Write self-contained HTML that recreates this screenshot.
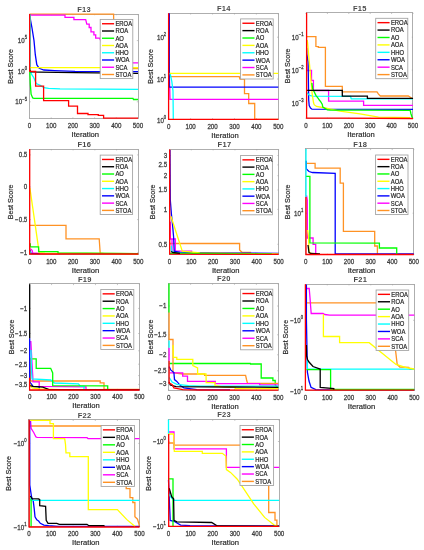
<!DOCTYPE html>
<html><head><meta charset="utf-8"><title>Convergence curves F13-F23</title>
<style>
html,body{margin:0;padding:0;background:#fff;}
body{width:424px;height:550px;overflow:hidden;}
svg{display:block;font-family:"Liberation Sans",sans-serif;will-change:transform;}
</style></head><body>
<svg width="424" height="550" viewBox="0 0 424 550">
<defs><filter id="tb" x="-5%" y="-5%" width="110%" height="110%"><feGaussianBlur stdDeviation="0.3"/></filter></defs>
<rect width="424" height="550" fill="#fff"/>
<g><rect x="29.5" y="14.5" width="109" height="104" fill="none" stroke="#a0a0a0" stroke-width="0.85"/><path d="M29.5 118.6v-1.2M29.5 14v1.2" stroke="#a0a0a0" stroke-width="0.6"/><path d="M51.2 118.6v-1.2M51.2 14v1.2" stroke="#a0a0a0" stroke-width="0.6"/><path d="M72.9 118.6v-1.2M72.9 14v1.2" stroke="#a0a0a0" stroke-width="0.6"/><path d="M94.6 118.6v-1.2M94.6 14v1.2" stroke="#a0a0a0" stroke-width="0.6"/><path d="M116.3 118.6v-1.2M116.3 14v1.2" stroke="#a0a0a0" stroke-width="0.6"/><path d="M138 118.6v-1.2M138 14v1.2" stroke="#a0a0a0" stroke-width="0.6"/><path d="M29.5 40.6h1.2M138 40.6h-1.2" stroke="#a0a0a0" stroke-width="0.6"/><path d="M29.5 71.6h1.2M138 71.6h-1.2" stroke="#a0a0a0" stroke-width="0.6"/><path d="M29.5 101.8h1.2M138 101.8h-1.2" stroke="#a0a0a0" stroke-width="0.6"/><polyline points="29.5,14.2 113.6,14.2 114,68.6 138,68.6" fill="none" stroke="#ff9224" stroke-width="1.3" stroke-linejoin="miter" stroke-miterlimit="2"/><polyline points="29.5,15.2 65,15.2 65,17.3 73.9,17.3 73.9,19.7 85.7,19.7 86.8,24.2 89.2,24.2 89.2,27.5 91,27.5 91,31.8 93.9,31.8 93.9,34.8 95.7,34.8 95.7,38.1 99.5,38.1 105,50 133,62.9 138,62.9" fill="none" stroke="#ff00ff" stroke-width="1.3" stroke-linejoin="miter" stroke-miterlimit="2"/><polyline points="29.8,14.5 30.5,20 32,28 34,40.6 35.3,54.7 36.8,64.7 39.2,68.3 43.9,70 54.5,70.6 75,71.4 138,71.6" fill="none" stroke="#0000ff" stroke-width="1.3" stroke-linejoin="miter" stroke-miterlimit="2"/><polyline points="30.3,14.5 30.3,69.4" fill="none" stroke="#00ffff" stroke-width="1.3" stroke-linejoin="miter" stroke-miterlimit="2"/><polyline points="29.7,69.4 31.5,74.2 33.8,77.7 36.2,83.6 40.3,85.4 43.9,87.7 48.6,88.3 60,88.9 138,89.3" fill="none" stroke="#00ffff" stroke-width="1.3" stroke-linejoin="miter" stroke-miterlimit="2"/><polyline points="30,67.7 138,67.7" fill="none" stroke="#ffff00" stroke-width="1.3" stroke-linejoin="miter" stroke-miterlimit="2"/><polyline points="29.7,68.8 30.3,83.6 31.1,94.2 32.7,98 34,98.3 133,98.4 133.5,99.5 138,99.5" fill="none" stroke="#00ff00" stroke-width="1.3" stroke-linejoin="miter" stroke-miterlimit="2"/><polyline points="29.7,70 30.9,71.8 40,72.1 75,72.7 138,73.3" fill="none" stroke="#000000" stroke-width="1.3" stroke-linejoin="miter" stroke-miterlimit="2"/><polyline points="29.7,14 29.7,71.2 30.9,71.4 35.6,71.4 35.6,86.2 43.6,86.2 43.6,100.7 68.6,100.7 68.6,106.2 77.5,106.2 77.5,113.5 88,113.5 88,114.6 98.3,114.6 98.3,115.4 103.6,115.4 103.6,118.2 138,118.2" fill="none" stroke="#ff0000" stroke-width="1.3" stroke-linejoin="miter" stroke-miterlimit="2"/><rect x="100.2" y="19.4" width="32.6" height="59.2" fill="#fff" stroke="#a0a0a0" stroke-width="0.85"/><path d="M102 23.75H114.1" stroke="#ff0000" stroke-width="1.4"/><path d="M102 31H114.1" stroke="#000000" stroke-width="1.4"/><path d="M102 38.25H114.1" stroke="#00ff00" stroke-width="1.4"/><path d="M102 45.5H114.1" stroke="#ffff00" stroke-width="1.4"/><path d="M102 52.75H114.1" stroke="#00ffff" stroke-width="1.4"/><path d="M102 60H114.1" stroke="#0000ff" stroke-width="1.4"/><path d="M102 67.25H114.1" stroke="#ff00ff" stroke-width="1.4"/><path d="M102 74.5H114.1" stroke="#ff9224" stroke-width="1.4"/></g>
<g><rect x="168.5" y="13.5" width="110" height="106" fill="none" stroke="#a0a0a0" stroke-width="0.85"/><path d="M168.7 119.4v-1.2M168.7 13.3v1.2" stroke="#a0a0a0" stroke-width="0.6"/><path d="M190.62 119.4v-1.2M190.62 13.3v1.2" stroke="#a0a0a0" stroke-width="0.6"/><path d="M212.54 119.4v-1.2M212.54 13.3v1.2" stroke="#a0a0a0" stroke-width="0.6"/><path d="M234.46 119.4v-1.2M234.46 13.3v1.2" stroke="#a0a0a0" stroke-width="0.6"/><path d="M256.38 119.4v-1.2M256.38 13.3v1.2" stroke="#a0a0a0" stroke-width="0.6"/><path d="M278.3 119.4v-1.2M278.3 13.3v1.2" stroke="#a0a0a0" stroke-width="0.6"/><path d="M168.7 37.2h1.2M278.3 37.2h-1.2" stroke="#a0a0a0" stroke-width="0.6"/><path d="M168.7 79h1.2M278.3 79h-1.2" stroke="#a0a0a0" stroke-width="0.6"/><polyline points="169.2,76.6 239.2,76.6 240,79 244.5,79 244.5,93.7 248.7,93.7 248.7,103.5 254.7,103.5 254.7,119.3 278.3,119.3" fill="none" stroke="#ff9224" stroke-width="1.3" stroke-linejoin="miter" stroke-miterlimit="2"/><polyline points="169.5,79.5 170,99.4 278.3,99.4" fill="none" stroke="#ff00ff" stroke-width="1.3" stroke-linejoin="miter" stroke-miterlimit="2"/><polyline points="169.3,13.3 169.3,87.2 278.3,87.2" fill="none" stroke="#0000ff" stroke-width="1.3" stroke-linejoin="miter" stroke-miterlimit="2"/><polyline points="170,73 171.8,81.3 173,90.8 173.3,119.3" fill="none" stroke="#00ffff" stroke-width="1.3" stroke-linejoin="miter" stroke-miterlimit="2"/><polyline points="169.7,73.3 278.3,73.3" fill="none" stroke="#ffff00" stroke-width="1.3" stroke-linejoin="miter" stroke-miterlimit="2"/><polyline points="168.6,13.3 168.6,119.35 278.3,119.35" fill="none" stroke="#ff0000" stroke-width="1.3" stroke-linejoin="miter" stroke-miterlimit="2"/><rect x="240.6" y="18.9" width="32.6" height="60.1" fill="#fff" stroke="#a0a0a0" stroke-width="0.85"/><path d="M242.4 23.25H254.5" stroke="#ff0000" stroke-width="1.4"/><path d="M242.4 30.63H254.5" stroke="#000000" stroke-width="1.4"/><path d="M242.4 38.01H254.5" stroke="#00ff00" stroke-width="1.4"/><path d="M242.4 45.39H254.5" stroke="#ffff00" stroke-width="1.4"/><path d="M242.4 52.76H254.5" stroke="#00ffff" stroke-width="1.4"/><path d="M242.4 60.14H254.5" stroke="#0000ff" stroke-width="1.4"/><path d="M242.4 67.52H254.5" stroke="#ff00ff" stroke-width="1.4"/><path d="M242.4 74.9H254.5" stroke="#ff9224" stroke-width="1.4"/></g>
<g><rect x="306.5" y="12.5" width="106" height="106" fill="none" stroke="#a0a0a0" stroke-width="0.85"/><path d="M306 118.9v-1.2M306 12.8v1.2" stroke="#a0a0a0" stroke-width="0.6"/><path d="M327.4 118.9v-1.2M327.4 12.8v1.2" stroke="#a0a0a0" stroke-width="0.6"/><path d="M348.8 118.9v-1.2M348.8 12.8v1.2" stroke="#a0a0a0" stroke-width="0.6"/><path d="M370.2 118.9v-1.2M370.2 12.8v1.2" stroke="#a0a0a0" stroke-width="0.6"/><path d="M391.6 118.9v-1.2M391.6 12.8v1.2" stroke="#a0a0a0" stroke-width="0.6"/><path d="M413 118.9v-1.2M413 12.8v1.2" stroke="#a0a0a0" stroke-width="0.6"/><path d="M306 37.2h1.2M413 37.2h-1.2" stroke="#a0a0a0" stroke-width="0.6"/><path d="M306 70.1h1.2M413 70.1h-1.2" stroke="#a0a0a0" stroke-width="0.6"/><path d="M306 103.7h1.2M413 103.7h-1.2" stroke="#a0a0a0" stroke-width="0.6"/><polyline points="306.7,36.7 315.9,36.7 315.9,46.4 318.4,46.6 318.4,47.4 325.4,47.4 325.4,86.4 342.3,86.4 342.3,91.9 377,91.9 378.5,94.1 380.4,96 408.3,96 413,99" fill="none" stroke="#ff9224" stroke-width="1.3" stroke-linejoin="miter" stroke-miterlimit="2"/><polyline points="306.7,60 306.7,70.5 311.5,70.5 311.5,80.3 313.4,80.3 313.4,90.5 328.6,90.5 328.6,101.1 363.6,101.2 363.6,105.3 413,105.3" fill="none" stroke="#ff00ff" stroke-width="1.3" stroke-linejoin="miter" stroke-miterlimit="2"/><polyline points="306.7,48 306.8,54.2 308.1,61.8 308.7,100 309.2,105.5 310.5,108 312,109.2 413,109.4" fill="none" stroke="#0000ff" stroke-width="1.3" stroke-linejoin="miter" stroke-miterlimit="2"/><polyline points="307,92.8 309.5,95.4 312.6,96.2 350.6,96.4 351.2,98.8 413,98.8" fill="none" stroke="#00ffff" stroke-width="1.3" stroke-linejoin="miter" stroke-miterlimit="2"/><polyline points="307.2,40 307.5,42 310,70 312.2,94 313.6,103 314.2,104.7 316.5,106.4 322.6,107.5 340,111.1 360,113.8 378.5,117.2 410,117.6" fill="none" stroke="#ffff00" stroke-width="1.3" stroke-linejoin="miter" stroke-miterlimit="2"/><polyline points="311.9,83 312.6,88.6 315.9,95.3 318.4,98.6 319.3,100 320.8,101.9 322.2,104.2 322.8,107 327.4,109.9 330,110.2 360,110.2 410.2,110.3 411,114 412.5,118.3" fill="none" stroke="#00ff00" stroke-width="1.3" stroke-linejoin="miter" stroke-miterlimit="2"/><polyline points="306.7,90.3 342.3,90.3 342.3,96 367.4,96.2 367.4,98.4 413,98.4" fill="none" stroke="#000000" stroke-width="1.3" stroke-linejoin="miter" stroke-miterlimit="2"/><polyline points="306.6,12.8 306.6,118.1 340,118.2 413,118.5" fill="none" stroke="#ff0000" stroke-width="1.3" stroke-linejoin="miter" stroke-miterlimit="2"/><rect x="375.7" y="18.3" width="32.1" height="60.4" fill="#fff" stroke="#a0a0a0" stroke-width="0.85"/><path d="M377.5 22.65H389.6" stroke="#ff0000" stroke-width="1.4"/><path d="M377.5 30.07H389.6" stroke="#000000" stroke-width="1.4"/><path d="M377.5 37.49H389.6" stroke="#00ff00" stroke-width="1.4"/><path d="M377.5 44.91H389.6" stroke="#ffff00" stroke-width="1.4"/><path d="M377.5 52.34H389.6" stroke="#00ffff" stroke-width="1.4"/><path d="M377.5 59.76H389.6" stroke="#0000ff" stroke-width="1.4"/><path d="M377.5 67.18H389.6" stroke="#ff00ff" stroke-width="1.4"/><path d="M377.5 74.6H389.6" stroke="#ff9224" stroke-width="1.4"/></g>
<g><rect x="29.5" y="149.5" width="109" height="105" fill="none" stroke="#a0a0a0" stroke-width="0.85"/><path d="M29.6 254.4v-1.2M29.6 149.2v1.2" stroke="#a0a0a0" stroke-width="0.6"/><path d="M51.34 254.4v-1.2M51.34 149.2v1.2" stroke="#a0a0a0" stroke-width="0.6"/><path d="M73.08 254.4v-1.2M73.08 149.2v1.2" stroke="#a0a0a0" stroke-width="0.6"/><path d="M94.82 254.4v-1.2M94.82 149.2v1.2" stroke="#a0a0a0" stroke-width="0.6"/><path d="M116.56 254.4v-1.2M116.56 149.2v1.2" stroke="#a0a0a0" stroke-width="0.6"/><path d="M138.3 254.4v-1.2M138.3 149.2v1.2" stroke="#a0a0a0" stroke-width="0.6"/><path d="M29.6 154.9h1.2M138.3 154.9h-1.2" stroke="#a0a0a0" stroke-width="0.6"/><path d="M29.6 187h1.2M138.3 187h-1.2" stroke="#a0a0a0" stroke-width="0.6"/><path d="M29.6 219.6h1.2M138.3 219.6h-1.2" stroke="#a0a0a0" stroke-width="0.6"/><path d="M29.6 252.8h1.2M138.3 252.8h-1.2" stroke="#a0a0a0" stroke-width="0.6"/><polyline points="29.8,225.4 66,225.4 66,238.8 99.2,238.8 100.2,253.2 104,253.6 138.3,253.8" fill="none" stroke="#ff9224" stroke-width="1.3" stroke-linejoin="miter" stroke-miterlimit="2"/><polyline points="30.3,248.6 32.1,250.4 32.7,253 39.2,253.3 60,253.6" fill="none" stroke="#ff00ff" stroke-width="1.3" stroke-linejoin="miter" stroke-miterlimit="2"/><polyline points="29.9,250 31,253.3 40,253.6" fill="none" stroke="#0000ff" stroke-width="1.3" stroke-linejoin="miter" stroke-miterlimit="2"/><polyline points="29.9,251 31,253.6" fill="none" stroke="#00ffff" stroke-width="1.3" stroke-linejoin="miter" stroke-miterlimit="2"/><polyline points="29.9,188 39.2,252.6 45,253.2 138,253.6" fill="none" stroke="#ffff00" stroke-width="1.3" stroke-linejoin="miter" stroke-miterlimit="2"/><polyline points="30.3,243.3 30.3,246.8 38.6,246.8 38.6,251.6 58,251.6 58,253 115.3,253.3 138,253.6" fill="none" stroke="#00ff00" stroke-width="1.3" stroke-linejoin="miter" stroke-miterlimit="2"/><polyline points="29.7,149.2 29.7,254 138.3,254" fill="none" stroke="#ff0000" stroke-width="1.3" stroke-linejoin="miter" stroke-miterlimit="2"/><rect x="100.2" y="155.1" width="32.4" height="59.4" fill="#fff" stroke="#a0a0a0" stroke-width="0.85"/><path d="M102 159.45H114.1" stroke="#ff0000" stroke-width="1.4"/><path d="M102 166.73H114.1" stroke="#000000" stroke-width="1.4"/><path d="M102 174.01H114.1" stroke="#00ff00" stroke-width="1.4"/><path d="M102 181.29H114.1" stroke="#ffff00" stroke-width="1.4"/><path d="M102 188.56H114.1" stroke="#00ffff" stroke-width="1.4"/><path d="M102 195.84H114.1" stroke="#0000ff" stroke-width="1.4"/><path d="M102 203.12H114.1" stroke="#ff00ff" stroke-width="1.4"/><path d="M102 210.4H114.1" stroke="#ff9224" stroke-width="1.4"/></g>
<g><rect x="169.5" y="149.5" width="109" height="105" fill="none" stroke="#a0a0a0" stroke-width="0.85"/><path d="M169.5 254.5v-1.2M169.5 149.2v1.2" stroke="#a0a0a0" stroke-width="0.6"/><path d="M191.32 254.5v-1.2M191.32 149.2v1.2" stroke="#a0a0a0" stroke-width="0.6"/><path d="M213.14 254.5v-1.2M213.14 149.2v1.2" stroke="#a0a0a0" stroke-width="0.6"/><path d="M234.96 254.5v-1.2M234.96 149.2v1.2" stroke="#a0a0a0" stroke-width="0.6"/><path d="M256.78 254.5v-1.2M256.78 149.2v1.2" stroke="#a0a0a0" stroke-width="0.6"/><path d="M278.6 254.5v-1.2M278.6 149.2v1.2" stroke="#a0a0a0" stroke-width="0.6"/><path d="M169.5 155.5h1.2M278.6 155.5h-1.2" stroke="#a0a0a0" stroke-width="0.6"/><path d="M169.5 164.9h1.2M278.6 164.9h-1.2" stroke="#a0a0a0" stroke-width="0.6"/><path d="M169.5 175.7h1.2M278.6 175.7h-1.2" stroke="#a0a0a0" stroke-width="0.6"/><path d="M169.5 190h1.2M278.6 190h-1.2" stroke="#a0a0a0" stroke-width="0.6"/><path d="M169.5 209.4h1.2M278.6 209.4h-1.2" stroke="#a0a0a0" stroke-width="0.6"/><path d="M169.5 244.3h1.2M278.6 244.3h-1.2" stroke="#a0a0a0" stroke-width="0.6"/><polyline points="169.8,243.5 239.6,243.5 239.6,249.9 242,252.3 250.5,252.3 250.5,253.4 259,253.6 278.6,253.8" fill="none" stroke="#ff9224" stroke-width="1.3" stroke-linejoin="miter" stroke-miterlimit="2"/><polyline points="170.4,221.8 170.4,239 175.3,239 175.3,251.2 191.6,251.2 191.6,254 278.6,254.1" fill="none" stroke="#ff00ff" stroke-width="1.3" stroke-linejoin="miter" stroke-miterlimit="2"/><polyline points="172,239 172,251" fill="none" stroke="#ff00ff" stroke-width="1.3" stroke-linejoin="miter" stroke-miterlimit="2"/><polyline points="170,150 170.3,200 171.5,215 172.5,224.5 173.6,237 174.2,251.2 180,252.5 278.6,253.5" fill="none" stroke="#0000ff" stroke-width="1.3" stroke-linejoin="miter" stroke-miterlimit="2"/><polyline points="171.4,245.8 171.4,251 175,253 190,253.6" fill="none" stroke="#00ffff" stroke-width="1.3" stroke-linejoin="miter" stroke-miterlimit="2"/><polyline points="170.9,216.3 182.3,251.2 200,253 278.6,253.8" fill="none" stroke="#ffff00" stroke-width="1.3" stroke-linejoin="miter" stroke-miterlimit="2"/><polyline points="170,253.4 190.5,253.4 259,253.8 271.7,253.8" fill="none" stroke="#00ff00" stroke-width="1.3" stroke-linejoin="miter" stroke-miterlimit="2"/><polyline points="171,251.5 173,252.5 180,253.5" fill="none" stroke="#000000" stroke-width="1.3" stroke-linejoin="miter" stroke-miterlimit="2"/><polyline points="169.7,149.5 169.7,254.2 278.6,254.4" fill="none" stroke="#ff0000" stroke-width="1.3" stroke-linejoin="miter" stroke-miterlimit="2"/><rect x="240.6" y="155.5" width="31.8" height="59.3" fill="#fff" stroke="#a0a0a0" stroke-width="0.85"/><path d="M242.4 159.85H254.5" stroke="#ff0000" stroke-width="1.4"/><path d="M242.4 167.11H254.5" stroke="#000000" stroke-width="1.4"/><path d="M242.4 174.38H254.5" stroke="#00ff00" stroke-width="1.4"/><path d="M242.4 181.64H254.5" stroke="#ffff00" stroke-width="1.4"/><path d="M242.4 188.91H254.5" stroke="#00ffff" stroke-width="1.4"/><path d="M242.4 196.17H254.5" stroke="#0000ff" stroke-width="1.4"/><path d="M242.4 203.44H254.5" stroke="#ff00ff" stroke-width="1.4"/><path d="M242.4 210.7H254.5" stroke="#ff9224" stroke-width="1.4"/></g>
<g><rect x="305.5" y="148.5" width="108" height="106" fill="none" stroke="#a0a0a0" stroke-width="0.85"/><path d="M305.8 254.9v-1.2M305.8 148.9v1.2" stroke="#a0a0a0" stroke-width="0.6"/><path d="M327.4 254.9v-1.2M327.4 148.9v1.2" stroke="#a0a0a0" stroke-width="0.6"/><path d="M349 254.9v-1.2M349 148.9v1.2" stroke="#a0a0a0" stroke-width="0.6"/><path d="M370.6 254.9v-1.2M370.6 148.9v1.2" stroke="#a0a0a0" stroke-width="0.6"/><path d="M392.2 254.9v-1.2M392.2 148.9v1.2" stroke="#a0a0a0" stroke-width="0.6"/><path d="M413.8 254.9v-1.2M413.8 148.9v1.2" stroke="#a0a0a0" stroke-width="0.6"/><path d="M305.8 213.2h1.2M413.8 213.2h-1.2" stroke="#a0a0a0" stroke-width="0.6"/><polyline points="306,163.4 315.1,163.4 315.1,168.1 340.2,168.1 340.2,183.2 343.4,183.2 343.4,231.4 374.7,231.4 374.7,246 377.4,246 377.4,254.5" fill="none" stroke="#ff9224" stroke-width="1.3" stroke-linejoin="miter" stroke-miterlimit="2"/><polyline points="306.5,195.3 307.3,200 307.4,238 313.1,238 313.1,244.3 315.7,244.3 315.7,254.3" fill="none" stroke="#ff00ff" stroke-width="1.3" stroke-linejoin="miter" stroke-miterlimit="2"/><polyline points="306.2,160.7 306.4,169 309,171.5 312.5,172.5 335.2,173.3 335.2,253.6 413.8,254" fill="none" stroke="#0000ff" stroke-width="1.3" stroke-linejoin="miter" stroke-miterlimit="2"/><polyline points="306,148.9 306,197" fill="none" stroke="#00ffff" stroke-width="1.3" stroke-linejoin="miter" stroke-miterlimit="2"/><polyline points="307.6,230 308.6,237 309,252 312,254" fill="none" stroke="#ffff00" stroke-width="1.3" stroke-linejoin="miter" stroke-miterlimit="2"/><polyline points="306.2,176.4 309.9,176.4 309.9,242.9 379.4,243.2 379.4,248 396.7,248 396.7,254.5" fill="none" stroke="#00ff00" stroke-width="1.3" stroke-linejoin="miter" stroke-miterlimit="2"/><polyline points="308,245 309,252.5 311,253.5 320,254" fill="none" stroke="#000000" stroke-width="1.3" stroke-linejoin="miter" stroke-miterlimit="2"/><polyline points="306,197 306,254.5 413.8,254.5" fill="none" stroke="#ff0000" stroke-width="1.3" stroke-linejoin="miter" stroke-miterlimit="2"/><rect x="375.6" y="155" width="32.4" height="59.6" fill="#fff" stroke="#a0a0a0" stroke-width="0.85"/><path d="M377.4 159.35H389.5" stroke="#ff0000" stroke-width="1.4"/><path d="M377.4 166.66H389.5" stroke="#000000" stroke-width="1.4"/><path d="M377.4 173.96H389.5" stroke="#00ff00" stroke-width="1.4"/><path d="M377.4 181.27H389.5" stroke="#ffff00" stroke-width="1.4"/><path d="M377.4 188.58H389.5" stroke="#00ffff" stroke-width="1.4"/><path d="M377.4 195.89H389.5" stroke="#0000ff" stroke-width="1.4"/><path d="M377.4 203.19H389.5" stroke="#ff00ff" stroke-width="1.4"/><path d="M377.4 210.5H389.5" stroke="#ff9224" stroke-width="1.4"/></g>
<g><rect x="29.5" y="283.5" width="110" height="107" fill="none" stroke="#a0a0a0" stroke-width="0.85"/><path d="M29.6 390.1v-1.2M29.6 283.9v1.2" stroke="#a0a0a0" stroke-width="0.6"/><path d="M51.56 390.1v-1.2M51.56 283.9v1.2" stroke="#a0a0a0" stroke-width="0.6"/><path d="M73.52 390.1v-1.2M73.52 283.9v1.2" stroke="#a0a0a0" stroke-width="0.6"/><path d="M95.48 390.1v-1.2M95.48 283.9v1.2" stroke="#a0a0a0" stroke-width="0.6"/><path d="M117.44 390.1v-1.2M117.44 283.9v1.2" stroke="#a0a0a0" stroke-width="0.6"/><path d="M139.4 390.1v-1.2M139.4 283.9v1.2" stroke="#a0a0a0" stroke-width="0.6"/><path d="M29.6 308.4h1.2M139.4 308.4h-1.2" stroke="#a0a0a0" stroke-width="0.6"/><path d="M29.6 333.5h1.2M139.4 333.5h-1.2" stroke="#a0a0a0" stroke-width="0.6"/><path d="M29.6 350.8h1.2M139.4 350.8h-1.2" stroke="#a0a0a0" stroke-width="0.6"/><path d="M29.6 364.2h1.2M139.4 364.2h-1.2" stroke="#a0a0a0" stroke-width="0.6"/><path d="M29.6 375.6h1.2M139.4 375.6h-1.2" stroke="#a0a0a0" stroke-width="0.6"/><path d="M29.6 384.4h1.2M139.4 384.4h-1.2" stroke="#a0a0a0" stroke-width="0.6"/><polyline points="30.3,357.7 30.3,381 100.2,381 100.2,382.9 104,382.9 104,389.2 139.4,389.5" fill="none" stroke="#ff9224" stroke-width="1.3" stroke-linejoin="miter" stroke-miterlimit="2"/><polyline points="30.8,341 31.5,354 32.7,375.4 33,381.9 39.2,381.9 39.2,386.4 86,386.9 86,389.5 139.4,389.7" fill="none" stroke="#ff00ff" stroke-width="1.3" stroke-linejoin="miter" stroke-miterlimit="2"/><polyline points="29.7,338.2 29.7,381.9 33.3,386.6 39.2,386.6 39.2,390" fill="none" stroke="#0000ff" stroke-width="1.3" stroke-linejoin="miter" stroke-miterlimit="2"/><polyline points="31,350 31.5,370 32,378.9 50.7,380 54.5,383 78.5,383.9 80.4,386.3 84,386.3 84,389.5" fill="none" stroke="#00ffff" stroke-width="1.3" stroke-linejoin="miter" stroke-miterlimit="2"/><polyline points="30,384.5 32,387.8 40,389 60,389.6" fill="none" stroke="#ffff00" stroke-width="1.3" stroke-linejoin="miter" stroke-miterlimit="2"/><polyline points="32.3,358.9 36.2,358.9 36.2,368.3 50.7,368.3 52.7,373 52.7,385.6 107.7,385.9 107.7,390" fill="none" stroke="#00ff00" stroke-width="1.3" stroke-linejoin="miter" stroke-miterlimit="2"/><polyline points="29.7,284.2 29.7,338.2" fill="none" stroke="#000000" stroke-width="1.3" stroke-linejoin="miter" stroke-miterlimit="2"/><polyline points="30.2,385.6 33,386.4 42.7,387.2 48.6,389.3 139.4,389.7" fill="none" stroke="#000000" stroke-width="1.3" stroke-linejoin="miter" stroke-miterlimit="2"/><polyline points="29.6,377.7 29.6,390 139.4,390" fill="none" stroke="#ff0000" stroke-width="1.3" stroke-linejoin="miter" stroke-miterlimit="2"/><rect x="100.8" y="289.5" width="33" height="60" fill="#fff" stroke="#a0a0a0" stroke-width="0.85"/><path d="M102.6 293.85H114.7" stroke="#ff0000" stroke-width="1.4"/><path d="M102.6 301.21H114.7" stroke="#000000" stroke-width="1.4"/><path d="M102.6 308.58H114.7" stroke="#00ff00" stroke-width="1.4"/><path d="M102.6 315.94H114.7" stroke="#ffff00" stroke-width="1.4"/><path d="M102.6 323.31H114.7" stroke="#00ffff" stroke-width="1.4"/><path d="M102.6 330.67H114.7" stroke="#0000ff" stroke-width="1.4"/><path d="M102.6 338.04H114.7" stroke="#ff00ff" stroke-width="1.4"/><path d="M102.6 345.4H114.7" stroke="#ff9224" stroke-width="1.4"/></g>
<g><rect x="168.5" y="283.5" width="110" height="107" fill="none" stroke="#a0a0a0" stroke-width="0.85"/><path d="M168.7 390.3v-1.2M168.7 283.6v1.2" stroke="#a0a0a0" stroke-width="0.6"/><path d="M190.62 390.3v-1.2M190.62 283.6v1.2" stroke="#a0a0a0" stroke-width="0.6"/><path d="M212.54 390.3v-1.2M212.54 283.6v1.2" stroke="#a0a0a0" stroke-width="0.6"/><path d="M234.46 390.3v-1.2M234.46 283.6v1.2" stroke="#a0a0a0" stroke-width="0.6"/><path d="M256.38 390.3v-1.2M256.38 283.6v1.2" stroke="#a0a0a0" stroke-width="0.6"/><path d="M278.3 390.3v-1.2M278.3 283.6v1.2" stroke="#a0a0a0" stroke-width="0.6"/><path d="M168.7 306h1.2M278.3 306h-1.2" stroke="#a0a0a0" stroke-width="0.6"/><path d="M168.7 334.8h1.2M278.3 334.8h-1.2" stroke="#a0a0a0" stroke-width="0.6"/><path d="M168.7 354.8h1.2M278.3 354.8h-1.2" stroke="#a0a0a0" stroke-width="0.6"/><path d="M168.7 370.8h1.2M278.3 370.8h-1.2" stroke="#a0a0a0" stroke-width="0.6"/><path d="M168.7 383.5h1.2M278.3 383.5h-1.2" stroke="#a0a0a0" stroke-width="0.6"/><polyline points="169.5,363.5 250.3,363.5 250.5,364 261.2,364 261.2,378 272.9,378 272.9,380.5 275.2,380.5 275.2,385.2 278.3,388" fill="none" stroke="#00ff00" stroke-width="1.3" stroke-linejoin="miter" stroke-miterlimit="2"/><polyline points="169.1,312.2 169.1,339.5 173,339.5 173,372.6 182.7,374 204.6,374 204.6,375.3 245.6,375.3 246.5,379.5 247.5,383.3 278.3,383.3" fill="none" stroke="#ff9224" stroke-width="1.3" stroke-linejoin="miter" stroke-miterlimit="2"/><polyline points="169.1,347.7 169.1,360.7" fill="none" stroke="#ff00ff" stroke-width="1.3" stroke-linejoin="miter" stroke-miterlimit="2"/><polyline points="169.7,372.8 182.7,372.8 182.7,376.1 187.5,376.1 187.5,381.3 215.3,381.3 215.3,383.6 259.7,383.6 259.7,384.8 278.3,384.8" fill="none" stroke="#ff00ff" stroke-width="1.3" stroke-linejoin="miter" stroke-miterlimit="2"/><polyline points="169.1,366.6 170.9,370.2 173.9,372.6 174.5,379.6 176.8,381.4 180.4,385.6 183.9,387.9 196.9,389.6 230,389.9" fill="none" stroke="#0000ff" stroke-width="1.3" stroke-linejoin="miter" stroke-miterlimit="2"/><polyline points="169.1,340.6 169.1,347.7" fill="none" stroke="#00ffff" stroke-width="1.3" stroke-linejoin="miter" stroke-miterlimit="2"/><polyline points="169.1,377.3 172.1,382 176.8,384.4 188.6,385.6 200,386.1 278.3,386.2" fill="none" stroke="#00ffff" stroke-width="1.3" stroke-linejoin="miter" stroke-miterlimit="2"/><polyline points="173,345 173.2,353.6 173.5,357.4 176.8,357.4 176.8,359.3 192.8,359.3 192.8,365.5 197.6,367.8 197.6,374 206,374 206.2,382.7 215,382.7 215,385.6 224,387.1 235.2,387.1 235.2,388.6 278.3,388.6" fill="none" stroke="#ffff00" stroke-width="1.3" stroke-linejoin="miter" stroke-miterlimit="2"/><polyline points="169,283.6 169,312.4" fill="none" stroke="#00ff00" stroke-width="1.3" stroke-linejoin="miter" stroke-miterlimit="2"/><polyline points="169.1,382 170.3,385 176,386.7 230,387 278.3,387.4" fill="none" stroke="#000000" stroke-width="1.3" stroke-linejoin="miter" stroke-miterlimit="2"/><polyline points="169.1,360.7 169.1,383.2 172,384.4 173.9,387.9 182.7,389.7 200,390 278.3,390.1" fill="none" stroke="#ff0000" stroke-width="1.3" stroke-linejoin="miter" stroke-miterlimit="2"/><rect x="240.6" y="289.2" width="32.2" height="60.6" fill="#fff" stroke="#a0a0a0" stroke-width="0.85"/><path d="M242.4 293.55H254.5" stroke="#ff0000" stroke-width="1.4"/><path d="M242.4 301H254.5" stroke="#000000" stroke-width="1.4"/><path d="M242.4 308.45H254.5" stroke="#00ff00" stroke-width="1.4"/><path d="M242.4 315.9H254.5" stroke="#ffff00" stroke-width="1.4"/><path d="M242.4 323.35H254.5" stroke="#00ffff" stroke-width="1.4"/><path d="M242.4 330.8H254.5" stroke="#0000ff" stroke-width="1.4"/><path d="M242.4 338.25H254.5" stroke="#ff00ff" stroke-width="1.4"/><path d="M242.4 345.7H254.5" stroke="#ff9224" stroke-width="1.4"/></g>
<g><rect x="305.5" y="284.5" width="109" height="106" fill="none" stroke="#a0a0a0" stroke-width="0.85"/><path d="M305.5 390.3v-1.2M305.5 284.2v1.2" stroke="#a0a0a0" stroke-width="0.6"/><path d="M327.26 390.3v-1.2M327.26 284.2v1.2" stroke="#a0a0a0" stroke-width="0.6"/><path d="M349.02 390.3v-1.2M349.02 284.2v1.2" stroke="#a0a0a0" stroke-width="0.6"/><path d="M370.78 390.3v-1.2M370.78 284.2v1.2" stroke="#a0a0a0" stroke-width="0.6"/><path d="M392.54 390.3v-1.2M392.54 284.2v1.2" stroke="#a0a0a0" stroke-width="0.6"/><path d="M414.3 390.3v-1.2M414.3 284.2v1.2" stroke="#a0a0a0" stroke-width="0.6"/><path d="M305.5 320.3h1.2M414.3 320.3h-1.2" stroke="#a0a0a0" stroke-width="0.6"/><polyline points="305.7,302.8 395.5,302.8 395.5,350 397.2,364.4 399.8,367 408.7,367.4 410,369.4 414.3,369.4" fill="none" stroke="#ff9224" stroke-width="1.3" stroke-linejoin="miter" stroke-miterlimit="2"/><polyline points="305.9,288.5 309.2,288.5 310,297.7 310.6,306 311.2,313.5 323,313.5 324.8,314.5 329.6,315.1 414.3,315.2" fill="none" stroke="#ff00ff" stroke-width="1.3" stroke-linejoin="miter" stroke-miterlimit="2"/><polyline points="306.4,284.5 306.4,319 307.4,372.2 309,381 311,387.3 315.8,389.7 414.3,389.9" fill="none" stroke="#0000ff" stroke-width="1.3" stroke-linejoin="miter" stroke-miterlimit="2"/><polyline points="307.4,359.9 307.4,369.2 414.3,369.2" fill="none" stroke="#00ffff" stroke-width="1.3" stroke-linejoin="miter" stroke-miterlimit="2"/><polyline points="323.4,314.3 323.4,336.5 339.6,336.5 339.6,342.5 369.2,342.7 396,364.4 406.2,367.7 414.3,369" fill="none" stroke="#ffff00" stroke-width="1.3" stroke-linejoin="miter" stroke-miterlimit="2"/><polyline points="306.4,369.7 330.6,369.7 330.6,389.5 414.3,389.5" fill="none" stroke="#00ff00" stroke-width="1.3" stroke-linejoin="miter" stroke-miterlimit="2"/><polyline points="306.4,345 306.6,356 307.5,359.5 309,362 313,366.5 319.6,368.8 320.2,369 320.2,387.3 333.8,388.6 333.8,390" fill="none" stroke="#000000" stroke-width="1.3" stroke-linejoin="miter" stroke-miterlimit="2"/><polyline points="305.4,284.3 305.4,390.1 414.3,390.1" fill="none" stroke="#ff0000" stroke-width="1.3" stroke-linejoin="miter" stroke-miterlimit="2"/><rect x="376.1" y="290" width="32.6" height="60.4" fill="#fff" stroke="#a0a0a0" stroke-width="0.85"/><path d="M377.9 294.35H390" stroke="#ff0000" stroke-width="1.4"/><path d="M377.9 301.77H390" stroke="#000000" stroke-width="1.4"/><path d="M377.9 309.19H390" stroke="#00ff00" stroke-width="1.4"/><path d="M377.9 316.61H390" stroke="#ffff00" stroke-width="1.4"/><path d="M377.9 324.04H390" stroke="#00ffff" stroke-width="1.4"/><path d="M377.9 331.46H390" stroke="#0000ff" stroke-width="1.4"/><path d="M377.9 338.88H390" stroke="#ff00ff" stroke-width="1.4"/><path d="M377.9 346.3H390" stroke="#ff9224" stroke-width="1.4"/></g>
<g><rect x="28.5" y="419.5" width="111" height="107" fill="none" stroke="#a0a0a0" stroke-width="0.85"/><path d="M29 527v-1.2M29 419.8v1.2" stroke="#a0a0a0" stroke-width="0.6"/><path d="M51.1 527v-1.2M51.1 419.8v1.2" stroke="#a0a0a0" stroke-width="0.6"/><path d="M73.2 527v-1.2M73.2 419.8v1.2" stroke="#a0a0a0" stroke-width="0.6"/><path d="M95.3 527v-1.2M95.3 419.8v1.2" stroke="#a0a0a0" stroke-width="0.6"/><path d="M117.4 527v-1.2M117.4 419.8v1.2" stroke="#a0a0a0" stroke-width="0.6"/><path d="M139.5 527v-1.2M139.5 419.8v1.2" stroke="#a0a0a0" stroke-width="0.6"/><path d="M29 443.4h1.2M139.5 443.4h-1.2" stroke="#a0a0a0" stroke-width="0.6"/><path d="M29 527h1.2M139.5 527h-1.2" stroke="#a0a0a0" stroke-width="0.6"/><polyline points="29.2,426 126.2,426 126.2,488.7 130,488.7 130,497.7 132.8,497.7 132.8,502.5 134.9,502.5 134.9,516.8 137.5,519.2 138.9,523.9 139.5,526.8" fill="none" stroke="#ff9224" stroke-width="1.3" stroke-linejoin="miter" stroke-miterlimit="2"/><polyline points="30.6,421 31.1,428.3 34,433 35.8,436.8 37,437.4 87,437.7 88,438.5 139.5,438.7" fill="none" stroke="#ff00ff" stroke-width="1.3" stroke-linejoin="miter" stroke-miterlimit="2"/><polyline points="29.7,420.5 29.8,485 31.5,496.8 33.3,501.5 34.2,508.6 35,516.8 36.8,519.8 38.6,521 40.3,523.3 43.9,525.1 48.6,525.7 58,526.3 139.5,526.4" fill="none" stroke="#0000ff" stroke-width="1.3" stroke-linejoin="miter" stroke-miterlimit="2"/><polyline points="29.8,497.7 31,500.3 139.5,500.4" fill="none" stroke="#00ffff" stroke-width="1.3" stroke-linejoin="miter" stroke-miterlimit="2"/><polyline points="30.2,420.3 50,420.3 50,423.6 53.4,423.6 53.4,438.7 64.7,438.7 65.5,444.3 66,452.8 69.8,452.8 69.8,456.6 88.3,456.6 88.3,509.6 117.4,509.6 126.6,519.4 135.1,526.5" fill="none" stroke="#ffff00" stroke-width="1.3" stroke-linejoin="miter" stroke-miterlimit="2"/><polyline points="31.1,498.7 31.1,527" fill="none" stroke="#00ff00" stroke-width="1.3" stroke-linejoin="miter" stroke-miterlimit="2"/><polyline points="30.3,496 32,498.7 38.6,498.9 39.7,499.7 39.7,505.6 45.6,506.3 46.2,520.4 48,523.3 56.8,523.3 59.2,524.3 87,524.3 88.9,525.7 103.6,525.7 105,526.5" fill="none" stroke="#000000" stroke-width="1.3" stroke-linejoin="miter" stroke-miterlimit="2"/><polyline points="29.2,419.8 29.2,527 139.5,527" fill="none" stroke="#ff0000" stroke-width="1.3" stroke-linejoin="miter" stroke-miterlimit="2"/><rect x="101.1" y="425.5" width="33.4" height="60.9" fill="#fff" stroke="#a0a0a0" stroke-width="0.85"/><path d="M102.9 429.85H115" stroke="#ff0000" stroke-width="1.4"/><path d="M102.9 437.34H115" stroke="#000000" stroke-width="1.4"/><path d="M102.9 444.84H115" stroke="#00ff00" stroke-width="1.4"/><path d="M102.9 452.33H115" stroke="#ffff00" stroke-width="1.4"/><path d="M102.9 459.82H115" stroke="#00ffff" stroke-width="1.4"/><path d="M102.9 467.31H115" stroke="#0000ff" stroke-width="1.4"/><path d="M102.9 474.81H115" stroke="#ff00ff" stroke-width="1.4"/><path d="M102.9 482.3H115" stroke="#ff9224" stroke-width="1.4"/></g>
<g><rect x="168.5" y="419.5" width="111" height="107" fill="none" stroke="#a0a0a0" stroke-width="0.85"/><path d="M168.4 527v-1.2M168.4 419.6v1.2" stroke="#a0a0a0" stroke-width="0.6"/><path d="M190.54 527v-1.2M190.54 419.6v1.2" stroke="#a0a0a0" stroke-width="0.6"/><path d="M212.68 527v-1.2M212.68 419.6v1.2" stroke="#a0a0a0" stroke-width="0.6"/><path d="M234.82 527v-1.2M234.82 419.6v1.2" stroke="#a0a0a0" stroke-width="0.6"/><path d="M256.96 527v-1.2M256.96 419.6v1.2" stroke="#a0a0a0" stroke-width="0.6"/><path d="M279.1 527v-1.2M279.1 419.6v1.2" stroke="#a0a0a0" stroke-width="0.6"/><path d="M168.4 441.5h1.2M279.1 441.5h-1.2" stroke="#a0a0a0" stroke-width="0.6"/><path d="M168.4 526h1.2M279.1 526h-1.2" stroke="#a0a0a0" stroke-width="0.6"/><polyline points="168.5,443 174,443 174,445.1 268.7,445.1 268.7,512.5 275,512.5 275,520.1 276.9,520.1 276.9,525.6 279.1,526" fill="none" stroke="#ff9224" stroke-width="1.3" stroke-linejoin="miter" stroke-miterlimit="2"/><polyline points="168.5,432 174,432 174,448.8 226.4,448.8 226.4,467.4 279.1,467.4" fill="none" stroke="#ff00ff" stroke-width="1.3" stroke-linejoin="miter" stroke-miterlimit="2"/><polyline points="168.5,480 170.2,520.4 174,521.3 180.6,525.1 190,525.7 279.1,526" fill="none" stroke="#0000ff" stroke-width="1.3" stroke-linejoin="miter" stroke-miterlimit="2"/><polyline points="168.5,419.6 168.5,434" fill="none" stroke="#00ffff" stroke-width="1.3" stroke-linejoin="miter" stroke-miterlimit="2"/><polyline points="168.5,494 173,499.6 175,500.3 279.1,500.4" fill="none" stroke="#00ffff" stroke-width="1.3" stroke-linejoin="miter" stroke-miterlimit="2"/><polyline points="168.5,434 173.6,434 174.3,451.3 202.3,451.3 202.3,453.3 222.3,453.3 225.8,456 226.4,469.6 230.5,472.4 237.3,479.2 242.8,487.4 253.7,503.8 264.6,517.4 274.2,525 278.3,526.4" fill="none" stroke="#ffff00" stroke-width="1.3" stroke-linejoin="miter" stroke-miterlimit="2"/><polyline points="168.5,478.9 173,478.9 173,526" fill="none" stroke="#00ff00" stroke-width="1.3" stroke-linejoin="miter" stroke-miterlimit="2"/><polyline points="169.2,488.3 171.7,496.8 173.6,498.7 174,520.4 176.8,521.9 211.7,522.5 217.4,526 279,526.3" fill="none" stroke="#000000" stroke-width="1.3" stroke-linejoin="miter" stroke-miterlimit="2"/><polyline points="168.7,434 168.7,526.4 279.1,526.4" fill="none" stroke="#ff0000" stroke-width="1.3" stroke-linejoin="miter" stroke-miterlimit="2"/><rect x="240" y="425.4" width="33.6" height="60.1" fill="#fff" stroke="#a0a0a0" stroke-width="0.85"/><path d="M241.8 429.75H253.9" stroke="#ff0000" stroke-width="1.4"/><path d="M241.8 437.13H253.9" stroke="#000000" stroke-width="1.4"/><path d="M241.8 444.51H253.9" stroke="#00ff00" stroke-width="1.4"/><path d="M241.8 451.89H253.9" stroke="#ffff00" stroke-width="1.4"/><path d="M241.8 459.26H253.9" stroke="#00ffff" stroke-width="1.4"/><path d="M241.8 466.64H253.9" stroke="#0000ff" stroke-width="1.4"/><path d="M241.8 474.02H253.9" stroke="#ff00ff" stroke-width="1.4"/><path d="M241.8 481.4H253.9" stroke="#ff9224" stroke-width="1.4"/></g>
<g filter="url(#tb)"><text transform="translate(29.5 127.87) scale(1 1.07)" text-anchor="middle" font-size="6.2" fill="#3c3c3c" stroke="#3c3c3c" stroke-width="0.24">0</text><text transform="translate(51.2 127.87) scale(1 1.07)" text-anchor="middle" font-size="6.2" fill="#3c3c3c" stroke="#3c3c3c" stroke-width="0.24">100</text><text transform="translate(72.9 127.87) scale(1 1.07)" text-anchor="middle" font-size="6.2" fill="#3c3c3c" stroke="#3c3c3c" stroke-width="0.24">200</text><text transform="translate(94.6 127.87) scale(1 1.07)" text-anchor="middle" font-size="6.2" fill="#3c3c3c" stroke="#3c3c3c" stroke-width="0.24">300</text><text transform="translate(116.3 127.87) scale(1 1.07)" text-anchor="middle" font-size="6.2" fill="#3c3c3c" stroke="#3c3c3c" stroke-width="0.24">400</text><text transform="translate(138 127.87) scale(1 1.07)" text-anchor="middle" font-size="6.2" fill="#3c3c3c" stroke="#3c3c3c" stroke-width="0.24">500</text><text transform="translate(27 43.17) scale(1 1.07)" text-anchor="end" font-size="6.2" fill="#3c3c3c" stroke="#3c3c3c" stroke-width="0.24">10<tspan font-size="4.22" dy="-3.6">5</tspan></text><text transform="translate(27 74.17) scale(1 1.07)" text-anchor="end" font-size="6.2" fill="#3c3c3c" stroke="#3c3c3c" stroke-width="0.24">10<tspan font-size="4.22" dy="-3.6">0</tspan></text><text transform="translate(27 104.37) scale(1 1.07)" text-anchor="end" font-size="6.2" fill="#3c3c3c" stroke="#3c3c3c" stroke-width="0.24">10<tspan font-size="4.22" dy="-3.6">−5</tspan></text><text transform="translate(115.4 26.13) scale(1 1.08)" font-size="5.9" fill="#262626" stroke="#262626" stroke-width="0.18">EROA</text><text transform="translate(115.4 33.38) scale(1 1.08)" font-size="5.9" fill="#262626" stroke="#262626" stroke-width="0.18">ROA</text><text transform="translate(115.4 40.63) scale(1 1.08)" font-size="5.9" fill="#262626" stroke="#262626" stroke-width="0.18">AO</text><text transform="translate(115.4 47.88) scale(1 1.08)" font-size="5.9" fill="#262626" stroke="#262626" stroke-width="0.18">AOA</text><text transform="translate(115.4 55.13) scale(1 1.08)" font-size="5.9" fill="#262626" stroke="#262626" stroke-width="0.18">HHO</text><text transform="translate(115.4 62.38) scale(1 1.08)" font-size="5.9" fill="#262626" stroke="#262626" stroke-width="0.18">WOA</text><text transform="translate(115.4 69.63) scale(1 1.08)" font-size="5.9" fill="#262626" stroke="#262626" stroke-width="0.18">SCA</text><text transform="translate(115.4 76.88) scale(1 1.08)" font-size="5.9" fill="#262626" stroke="#262626" stroke-width="0.18">STOA</text><text x="84.15" y="11.79" text-anchor="middle" font-size="7.5" font-weight="bold" letter-spacing="0.3" fill="#4a4a4a">F13</text><text x="85.35" y="136.8" text-anchor="middle" font-size="7.6" fill="#262626" stroke="#262626" stroke-width="0.18">Iteration</text><text transform="translate(10.3 66.3) rotate(-90)" text-anchor="middle" font-size="7.1" fill="#262626" stroke="#262626" stroke-width="0.18" y="2.54">Best Score</text><text transform="translate(168.7 128.67) scale(1 1.07)" text-anchor="middle" font-size="6.2" fill="#3c3c3c" stroke="#3c3c3c" stroke-width="0.24">0</text><text transform="translate(190.62 128.67) scale(1 1.07)" text-anchor="middle" font-size="6.2" fill="#3c3c3c" stroke="#3c3c3c" stroke-width="0.24">100</text><text transform="translate(212.54 128.67) scale(1 1.07)" text-anchor="middle" font-size="6.2" fill="#3c3c3c" stroke="#3c3c3c" stroke-width="0.24">200</text><text transform="translate(234.46 128.67) scale(1 1.07)" text-anchor="middle" font-size="6.2" fill="#3c3c3c" stroke="#3c3c3c" stroke-width="0.24">300</text><text transform="translate(256.38 128.67) scale(1 1.07)" text-anchor="middle" font-size="6.2" fill="#3c3c3c" stroke="#3c3c3c" stroke-width="0.24">400</text><text transform="translate(278.3 128.67) scale(1 1.07)" text-anchor="middle" font-size="6.2" fill="#3c3c3c" stroke="#3c3c3c" stroke-width="0.24">500</text><text transform="translate(166.2 39.77) scale(1 1.07)" text-anchor="end" font-size="6.2" fill="#3c3c3c" stroke="#3c3c3c" stroke-width="0.24">10<tspan font-size="4.22" dy="-3.6">2</tspan></text><text transform="translate(166.2 81.57) scale(1 1.07)" text-anchor="end" font-size="6.2" fill="#3c3c3c" stroke="#3c3c3c" stroke-width="0.24">10<tspan font-size="4.22" dy="-3.6">1</tspan></text><text transform="translate(166.2 123.27) scale(1 1.07)" text-anchor="end" font-size="6.2" fill="#3c3c3c" stroke="#3c3c3c" stroke-width="0.24">10<tspan font-size="4.22" dy="-3.6">0</tspan></text><text transform="translate(255.8 25.63) scale(1 1.08)" font-size="5.9" fill="#262626" stroke="#262626" stroke-width="0.18">EROA</text><text transform="translate(255.8 33.01) scale(1 1.08)" font-size="5.9" fill="#262626" stroke="#262626" stroke-width="0.18">ROA</text><text transform="translate(255.8 40.39) scale(1 1.08)" font-size="5.9" fill="#262626" stroke="#262626" stroke-width="0.18">AO</text><text transform="translate(255.8 47.77) scale(1 1.08)" font-size="5.9" fill="#262626" stroke="#262626" stroke-width="0.18">AOA</text><text transform="translate(255.8 55.15) scale(1 1.08)" font-size="5.9" fill="#262626" stroke="#262626" stroke-width="0.18">HHO</text><text transform="translate(255.8 62.52) scale(1 1.08)" font-size="5.9" fill="#262626" stroke="#262626" stroke-width="0.18">WOA</text><text transform="translate(255.8 69.9) scale(1 1.08)" font-size="5.9" fill="#262626" stroke="#262626" stroke-width="0.18">SCA</text><text transform="translate(255.8 77.28) scale(1 1.08)" font-size="5.9" fill="#262626" stroke="#262626" stroke-width="0.18">STOA</text><text x="223.9" y="11.09" text-anchor="middle" font-size="7.5" font-weight="bold" letter-spacing="0.3" fill="#4a4a4a">F14</text><text x="225.1" y="137.6" text-anchor="middle" font-size="7.6" fill="#262626" stroke="#262626" stroke-width="0.18">Iteration</text><text transform="translate(150.5 66.35) rotate(-90)" text-anchor="middle" font-size="7.1" fill="#262626" stroke="#262626" stroke-width="0.18" y="2.54">Best Score</text><text transform="translate(306 128.17) scale(1 1.07)" text-anchor="middle" font-size="6.2" fill="#3c3c3c" stroke="#3c3c3c" stroke-width="0.24">0</text><text transform="translate(327.4 128.17) scale(1 1.07)" text-anchor="middle" font-size="6.2" fill="#3c3c3c" stroke="#3c3c3c" stroke-width="0.24">100</text><text transform="translate(348.8 128.17) scale(1 1.07)" text-anchor="middle" font-size="6.2" fill="#3c3c3c" stroke="#3c3c3c" stroke-width="0.24">200</text><text transform="translate(370.2 128.17) scale(1 1.07)" text-anchor="middle" font-size="6.2" fill="#3c3c3c" stroke="#3c3c3c" stroke-width="0.24">300</text><text transform="translate(391.6 128.17) scale(1 1.07)" text-anchor="middle" font-size="6.2" fill="#3c3c3c" stroke="#3c3c3c" stroke-width="0.24">400</text><text transform="translate(413 128.17) scale(1 1.07)" text-anchor="middle" font-size="6.2" fill="#3c3c3c" stroke="#3c3c3c" stroke-width="0.24">500</text><text transform="translate(303.5 39.77) scale(1 1.07)" text-anchor="end" font-size="6.2" fill="#3c3c3c" stroke="#3c3c3c" stroke-width="0.24">10<tspan font-size="4.22" dy="-3.6">−1</tspan></text><text transform="translate(303.5 72.67) scale(1 1.07)" text-anchor="end" font-size="6.2" fill="#3c3c3c" stroke="#3c3c3c" stroke-width="0.24">10<tspan font-size="4.22" dy="-3.6">−2</tspan></text><text transform="translate(303.5 106.27) scale(1 1.07)" text-anchor="end" font-size="6.2" fill="#3c3c3c" stroke="#3c3c3c" stroke-width="0.24">10<tspan font-size="4.22" dy="-3.6">−3</tspan></text><text transform="translate(390.9 25.03) scale(1 1.08)" font-size="5.9" fill="#262626" stroke="#262626" stroke-width="0.18">EROA</text><text transform="translate(390.9 32.45) scale(1 1.08)" font-size="5.9" fill="#262626" stroke="#262626" stroke-width="0.18">ROA</text><text transform="translate(390.9 39.87) scale(1 1.08)" font-size="5.9" fill="#262626" stroke="#262626" stroke-width="0.18">AO</text><text transform="translate(390.9 47.3) scale(1 1.08)" font-size="5.9" fill="#262626" stroke="#262626" stroke-width="0.18">AOA</text><text transform="translate(390.9 54.72) scale(1 1.08)" font-size="5.9" fill="#262626" stroke="#262626" stroke-width="0.18">HHO</text><text transform="translate(390.9 62.14) scale(1 1.08)" font-size="5.9" fill="#262626" stroke="#262626" stroke-width="0.18">WOA</text><text transform="translate(390.9 69.56) scale(1 1.08)" font-size="5.9" fill="#262626" stroke="#262626" stroke-width="0.18">SCA</text><text transform="translate(390.9 76.98) scale(1 1.08)" font-size="5.9" fill="#262626" stroke="#262626" stroke-width="0.18">STOA</text><text x="359.9" y="10.59" text-anchor="middle" font-size="7.5" font-weight="bold" letter-spacing="0.3" fill="#4a4a4a">F15</text><text x="361.1" y="137.1" text-anchor="middle" font-size="7.6" fill="#262626" stroke="#262626" stroke-width="0.18">Iteration</text><text transform="translate(287 65.85) rotate(-90)" text-anchor="middle" font-size="7.1" fill="#262626" stroke="#262626" stroke-width="0.18" y="2.54">Best Score</text><text transform="translate(29.6 263.67) scale(1 1.07)" text-anchor="middle" font-size="6.2" fill="#3c3c3c" stroke="#3c3c3c" stroke-width="0.24">0</text><text transform="translate(51.34 263.67) scale(1 1.07)" text-anchor="middle" font-size="6.2" fill="#3c3c3c" stroke="#3c3c3c" stroke-width="0.24">100</text><text transform="translate(73.08 263.67) scale(1 1.07)" text-anchor="middle" font-size="6.2" fill="#3c3c3c" stroke="#3c3c3c" stroke-width="0.24">200</text><text transform="translate(94.82 263.67) scale(1 1.07)" text-anchor="middle" font-size="6.2" fill="#3c3c3c" stroke="#3c3c3c" stroke-width="0.24">300</text><text transform="translate(116.56 263.67) scale(1 1.07)" text-anchor="middle" font-size="6.2" fill="#3c3c3c" stroke="#3c3c3c" stroke-width="0.24">400</text><text transform="translate(138.3 263.67) scale(1 1.07)" text-anchor="middle" font-size="6.2" fill="#3c3c3c" stroke="#3c3c3c" stroke-width="0.24">500</text><text transform="translate(27.3 157.27) scale(1 1.07)" text-anchor="end" font-size="6.2" fill="#3c3c3c" stroke="#3c3c3c" stroke-width="0.24">0.5</text><text transform="translate(27.3 189.37) scale(1 1.07)" text-anchor="end" font-size="6.2" fill="#3c3c3c" stroke="#3c3c3c" stroke-width="0.24">0</text><text transform="translate(27.3 221.97) scale(1 1.07)" text-anchor="end" font-size="6.2" fill="#3c3c3c" stroke="#3c3c3c" stroke-width="0.24">−0.5</text><text transform="translate(27.3 255.17) scale(1 1.07)" text-anchor="end" font-size="6.2" fill="#3c3c3c" stroke="#3c3c3c" stroke-width="0.24">−1</text><text transform="translate(115.4 161.83) scale(1 1.08)" font-size="5.9" fill="#262626" stroke="#262626" stroke-width="0.18">EROA</text><text transform="translate(115.4 169.11) scale(1 1.08)" font-size="5.9" fill="#262626" stroke="#262626" stroke-width="0.18">ROA</text><text transform="translate(115.4 176.39) scale(1 1.08)" font-size="5.9" fill="#262626" stroke="#262626" stroke-width="0.18">AO</text><text transform="translate(115.4 183.67) scale(1 1.08)" font-size="5.9" fill="#262626" stroke="#262626" stroke-width="0.18">AOA</text><text transform="translate(115.4 190.95) scale(1 1.08)" font-size="5.9" fill="#262626" stroke="#262626" stroke-width="0.18">HHO</text><text transform="translate(115.4 198.22) scale(1 1.08)" font-size="5.9" fill="#262626" stroke="#262626" stroke-width="0.18">WOA</text><text transform="translate(115.4 205.5) scale(1 1.08)" font-size="5.9" fill="#262626" stroke="#262626" stroke-width="0.18">SCA</text><text transform="translate(115.4 212.78) scale(1 1.08)" font-size="5.9" fill="#262626" stroke="#262626" stroke-width="0.18">STOA</text><text x="84.35" y="146.98" text-anchor="middle" font-size="7.5" font-weight="bold" letter-spacing="0.3" fill="#4a4a4a">F16</text><text x="85.55" y="272.6" text-anchor="middle" font-size="7.6" fill="#262626" stroke="#262626" stroke-width="0.18">Iteration</text><text transform="translate(10.9 201.8) rotate(-90)" text-anchor="middle" font-size="7.1" fill="#262626" stroke="#262626" stroke-width="0.18" y="2.54">Best Score</text><text transform="translate(169.5 263.77) scale(1 1.07)" text-anchor="middle" font-size="6.2" fill="#3c3c3c" stroke="#3c3c3c" stroke-width="0.24">0</text><text transform="translate(191.32 263.77) scale(1 1.07)" text-anchor="middle" font-size="6.2" fill="#3c3c3c" stroke="#3c3c3c" stroke-width="0.24">100</text><text transform="translate(213.14 263.77) scale(1 1.07)" text-anchor="middle" font-size="6.2" fill="#3c3c3c" stroke="#3c3c3c" stroke-width="0.24">200</text><text transform="translate(234.96 263.77) scale(1 1.07)" text-anchor="middle" font-size="6.2" fill="#3c3c3c" stroke="#3c3c3c" stroke-width="0.24">300</text><text transform="translate(256.78 263.77) scale(1 1.07)" text-anchor="middle" font-size="6.2" fill="#3c3c3c" stroke="#3c3c3c" stroke-width="0.24">400</text><text transform="translate(278.6 263.77) scale(1 1.07)" text-anchor="middle" font-size="6.2" fill="#3c3c3c" stroke="#3c3c3c" stroke-width="0.24">500</text><text transform="translate(167.2 157.87) scale(1 1.07)" text-anchor="end" font-size="6.2" fill="#3c3c3c" stroke="#3c3c3c" stroke-width="0.24">3</text><text transform="translate(167.2 167.27) scale(1 1.07)" text-anchor="end" font-size="6.2" fill="#3c3c3c" stroke="#3c3c3c" stroke-width="0.24">2.5</text><text transform="translate(167.2 178.07) scale(1 1.07)" text-anchor="end" font-size="6.2" fill="#3c3c3c" stroke="#3c3c3c" stroke-width="0.24">2</text><text transform="translate(167.2 192.37) scale(1 1.07)" text-anchor="end" font-size="6.2" fill="#3c3c3c" stroke="#3c3c3c" stroke-width="0.24">1.5</text><text transform="translate(167.2 211.77) scale(1 1.07)" text-anchor="end" font-size="6.2" fill="#3c3c3c" stroke="#3c3c3c" stroke-width="0.24">1</text><text transform="translate(167.2 246.67) scale(1 1.07)" text-anchor="end" font-size="6.2" fill="#3c3c3c" stroke="#3c3c3c" stroke-width="0.24">0.5</text><text transform="translate(255.8 162.23) scale(1 1.08)" font-size="5.9" fill="#262626" stroke="#262626" stroke-width="0.18">EROA</text><text transform="translate(255.8 169.5) scale(1 1.08)" font-size="5.9" fill="#262626" stroke="#262626" stroke-width="0.18">ROA</text><text transform="translate(255.8 176.76) scale(1 1.08)" font-size="5.9" fill="#262626" stroke="#262626" stroke-width="0.18">AO</text><text transform="translate(255.8 184.02) scale(1 1.08)" font-size="5.9" fill="#262626" stroke="#262626" stroke-width="0.18">AOA</text><text transform="translate(255.8 191.29) scale(1 1.08)" font-size="5.9" fill="#262626" stroke="#262626" stroke-width="0.18">HHO</text><text transform="translate(255.8 198.55) scale(1 1.08)" font-size="5.9" fill="#262626" stroke="#262626" stroke-width="0.18">WOA</text><text transform="translate(255.8 205.82) scale(1 1.08)" font-size="5.9" fill="#262626" stroke="#262626" stroke-width="0.18">SCA</text><text transform="translate(255.8 213.08) scale(1 1.08)" font-size="5.9" fill="#262626" stroke="#262626" stroke-width="0.18">STOA</text><text x="224.45" y="146.98" text-anchor="middle" font-size="7.5" font-weight="bold" letter-spacing="0.3" fill="#4a4a4a">F17</text><text x="225.65" y="272.7" text-anchor="middle" font-size="7.6" fill="#262626" stroke="#262626" stroke-width="0.18">Iteration</text><text transform="translate(152 201.85) rotate(-90)" text-anchor="middle" font-size="7.1" fill="#262626" stroke="#262626" stroke-width="0.18" y="2.54">Best Score</text><text transform="translate(305.8 264.17) scale(1 1.07)" text-anchor="middle" font-size="6.2" fill="#3c3c3c" stroke="#3c3c3c" stroke-width="0.24">0</text><text transform="translate(327.4 264.17) scale(1 1.07)" text-anchor="middle" font-size="6.2" fill="#3c3c3c" stroke="#3c3c3c" stroke-width="0.24">100</text><text transform="translate(349 264.17) scale(1 1.07)" text-anchor="middle" font-size="6.2" fill="#3c3c3c" stroke="#3c3c3c" stroke-width="0.24">200</text><text transform="translate(370.6 264.17) scale(1 1.07)" text-anchor="middle" font-size="6.2" fill="#3c3c3c" stroke="#3c3c3c" stroke-width="0.24">300</text><text transform="translate(392.2 264.17) scale(1 1.07)" text-anchor="middle" font-size="6.2" fill="#3c3c3c" stroke="#3c3c3c" stroke-width="0.24">400</text><text transform="translate(413.8 264.17) scale(1 1.07)" text-anchor="middle" font-size="6.2" fill="#3c3c3c" stroke="#3c3c3c" stroke-width="0.24">500</text><text transform="translate(303.3 215.77) scale(1 1.07)" text-anchor="end" font-size="6.2" fill="#3c3c3c" stroke="#3c3c3c" stroke-width="0.24">10<tspan font-size="4.22" dy="-3.6">1</tspan></text><text transform="translate(390.8 161.73) scale(1 1.08)" font-size="5.9" fill="#262626" stroke="#262626" stroke-width="0.18">EROA</text><text transform="translate(390.8 169.04) scale(1 1.08)" font-size="5.9" fill="#262626" stroke="#262626" stroke-width="0.18">ROA</text><text transform="translate(390.8 176.35) scale(1 1.08)" font-size="5.9" fill="#262626" stroke="#262626" stroke-width="0.18">AO</text><text transform="translate(390.8 183.65) scale(1 1.08)" font-size="5.9" fill="#262626" stroke="#262626" stroke-width="0.18">AOA</text><text transform="translate(390.8 190.96) scale(1 1.08)" font-size="5.9" fill="#262626" stroke="#262626" stroke-width="0.18">HHO</text><text transform="translate(390.8 198.27) scale(1 1.08)" font-size="5.9" fill="#262626" stroke="#262626" stroke-width="0.18">WOA</text><text transform="translate(390.8 205.57) scale(1 1.08)" font-size="5.9" fill="#262626" stroke="#262626" stroke-width="0.18">SCA</text><text transform="translate(390.8 212.88) scale(1 1.08)" font-size="5.9" fill="#262626" stroke="#262626" stroke-width="0.18">STOA</text><text x="360.2" y="146.69" text-anchor="middle" font-size="7.5" font-weight="bold" letter-spacing="0.3" fill="#4a4a4a">F18</text><text x="361.4" y="273.1" text-anchor="middle" font-size="7.6" fill="#262626" stroke="#262626" stroke-width="0.18">Iteration</text><text transform="translate(287.9 201.9) rotate(-90)" text-anchor="middle" font-size="7.1" fill="#262626" stroke="#262626" stroke-width="0.18" y="2.54">Best Score</text><text transform="translate(29.6 399.37) scale(1 1.07)" text-anchor="middle" font-size="6.2" fill="#3c3c3c" stroke="#3c3c3c" stroke-width="0.24">0</text><text transform="translate(51.56 399.37) scale(1 1.07)" text-anchor="middle" font-size="6.2" fill="#3c3c3c" stroke="#3c3c3c" stroke-width="0.24">100</text><text transform="translate(73.52 399.37) scale(1 1.07)" text-anchor="middle" font-size="6.2" fill="#3c3c3c" stroke="#3c3c3c" stroke-width="0.24">200</text><text transform="translate(95.48 399.37) scale(1 1.07)" text-anchor="middle" font-size="6.2" fill="#3c3c3c" stroke="#3c3c3c" stroke-width="0.24">300</text><text transform="translate(117.44 399.37) scale(1 1.07)" text-anchor="middle" font-size="6.2" fill="#3c3c3c" stroke="#3c3c3c" stroke-width="0.24">400</text><text transform="translate(139.4 399.37) scale(1 1.07)" text-anchor="middle" font-size="6.2" fill="#3c3c3c" stroke="#3c3c3c" stroke-width="0.24">500</text><text transform="translate(27.3 310.77) scale(1 1.07)" text-anchor="end" font-size="6.2" fill="#3c3c3c" stroke="#3c3c3c" stroke-width="0.24">−1</text><text transform="translate(27.3 335.87) scale(1 1.07)" text-anchor="end" font-size="6.2" fill="#3c3c3c" stroke="#3c3c3c" stroke-width="0.24">−1.5</text><text transform="translate(27.3 353.17) scale(1 1.07)" text-anchor="end" font-size="6.2" fill="#3c3c3c" stroke="#3c3c3c" stroke-width="0.24">−2</text><text transform="translate(27.3 366.57) scale(1 1.07)" text-anchor="end" font-size="6.2" fill="#3c3c3c" stroke="#3c3c3c" stroke-width="0.24">−2.5</text><text transform="translate(27.3 377.97) scale(1 1.07)" text-anchor="end" font-size="6.2" fill="#3c3c3c" stroke="#3c3c3c" stroke-width="0.24">−3</text><text transform="translate(27.3 386.77) scale(1 1.07)" text-anchor="end" font-size="6.2" fill="#3c3c3c" stroke="#3c3c3c" stroke-width="0.24">−3.5</text><text transform="translate(116 296.23) scale(1 1.08)" font-size="5.9" fill="#262626" stroke="#262626" stroke-width="0.18">EROA</text><text transform="translate(116 303.6) scale(1 1.08)" font-size="5.9" fill="#262626" stroke="#262626" stroke-width="0.18">ROA</text><text transform="translate(116 310.96) scale(1 1.08)" font-size="5.9" fill="#262626" stroke="#262626" stroke-width="0.18">AO</text><text transform="translate(116 318.32) scale(1 1.08)" font-size="5.9" fill="#262626" stroke="#262626" stroke-width="0.18">AOA</text><text transform="translate(116 325.69) scale(1 1.08)" font-size="5.9" fill="#262626" stroke="#262626" stroke-width="0.18">HHO</text><text transform="translate(116 333.05) scale(1 1.08)" font-size="5.9" fill="#262626" stroke="#262626" stroke-width="0.18">WOA</text><text transform="translate(116 340.42) scale(1 1.08)" font-size="5.9" fill="#262626" stroke="#262626" stroke-width="0.18">SCA</text><text transform="translate(116 347.78) scale(1 1.08)" font-size="5.9" fill="#262626" stroke="#262626" stroke-width="0.18">STOA</text><text x="84.9" y="281.69" text-anchor="middle" font-size="7.5" font-weight="bold" letter-spacing="0.3" fill="#4a4a4a">F19</text><text x="86.1" y="408.3" text-anchor="middle" font-size="7.6" fill="#262626" stroke="#262626" stroke-width="0.18">Iteration</text><text transform="translate(11.1 337) rotate(-90)" text-anchor="middle" font-size="7.1" fill="#262626" stroke="#262626" stroke-width="0.18" y="2.54">Best Score</text><text transform="translate(168.7 399.57) scale(1 1.07)" text-anchor="middle" font-size="6.2" fill="#3c3c3c" stroke="#3c3c3c" stroke-width="0.24">0</text><text transform="translate(190.62 399.57) scale(1 1.07)" text-anchor="middle" font-size="6.2" fill="#3c3c3c" stroke="#3c3c3c" stroke-width="0.24">100</text><text transform="translate(212.54 399.57) scale(1 1.07)" text-anchor="middle" font-size="6.2" fill="#3c3c3c" stroke="#3c3c3c" stroke-width="0.24">200</text><text transform="translate(234.46 399.57) scale(1 1.07)" text-anchor="middle" font-size="6.2" fill="#3c3c3c" stroke="#3c3c3c" stroke-width="0.24">300</text><text transform="translate(256.38 399.57) scale(1 1.07)" text-anchor="middle" font-size="6.2" fill="#3c3c3c" stroke="#3c3c3c" stroke-width="0.24">400</text><text transform="translate(278.3 399.57) scale(1 1.07)" text-anchor="middle" font-size="6.2" fill="#3c3c3c" stroke="#3c3c3c" stroke-width="0.24">500</text><text transform="translate(166.4 308.37) scale(1 1.07)" text-anchor="end" font-size="6.2" fill="#3c3c3c" stroke="#3c3c3c" stroke-width="0.24">−1</text><text transform="translate(166.4 337.17) scale(1 1.07)" text-anchor="end" font-size="6.2" fill="#3c3c3c" stroke="#3c3c3c" stroke-width="0.24">−1.5</text><text transform="translate(166.4 357.17) scale(1 1.07)" text-anchor="end" font-size="6.2" fill="#3c3c3c" stroke="#3c3c3c" stroke-width="0.24">−2</text><text transform="translate(166.4 373.17) scale(1 1.07)" text-anchor="end" font-size="6.2" fill="#3c3c3c" stroke="#3c3c3c" stroke-width="0.24">−2.5</text><text transform="translate(166.4 385.87) scale(1 1.07)" text-anchor="end" font-size="6.2" fill="#3c3c3c" stroke="#3c3c3c" stroke-width="0.24">−3</text><text transform="translate(255.8 295.93) scale(1 1.08)" font-size="5.9" fill="#262626" stroke="#262626" stroke-width="0.18">EROA</text><text transform="translate(255.8 303.38) scale(1 1.08)" font-size="5.9" fill="#262626" stroke="#262626" stroke-width="0.18">ROA</text><text transform="translate(255.8 310.83) scale(1 1.08)" font-size="5.9" fill="#262626" stroke="#262626" stroke-width="0.18">AO</text><text transform="translate(255.8 318.28) scale(1 1.08)" font-size="5.9" fill="#262626" stroke="#262626" stroke-width="0.18">AOA</text><text transform="translate(255.8 325.73) scale(1 1.08)" font-size="5.9" fill="#262626" stroke="#262626" stroke-width="0.18">HHO</text><text transform="translate(255.8 333.18) scale(1 1.08)" font-size="5.9" fill="#262626" stroke="#262626" stroke-width="0.18">WOA</text><text transform="translate(255.8 340.63) scale(1 1.08)" font-size="5.9" fill="#262626" stroke="#262626" stroke-width="0.18">SCA</text><text transform="translate(255.8 348.08) scale(1 1.08)" font-size="5.9" fill="#262626" stroke="#262626" stroke-width="0.18">STOA</text><text x="223.9" y="281.39" text-anchor="middle" font-size="7.5" font-weight="bold" letter-spacing="0.3" fill="#4a4a4a">F20</text><text x="225.1" y="408.5" text-anchor="middle" font-size="7.6" fill="#262626" stroke="#262626" stroke-width="0.18">Iteration</text><text transform="translate(150.3 336.95) rotate(-90)" text-anchor="middle" font-size="7.1" fill="#262626" stroke="#262626" stroke-width="0.18" y="2.54">Best Score</text><text transform="translate(305.5 399.57) scale(1 1.07)" text-anchor="middle" font-size="6.2" fill="#3c3c3c" stroke="#3c3c3c" stroke-width="0.24">0</text><text transform="translate(327.26 399.57) scale(1 1.07)" text-anchor="middle" font-size="6.2" fill="#3c3c3c" stroke="#3c3c3c" stroke-width="0.24">100</text><text transform="translate(349.02 399.57) scale(1 1.07)" text-anchor="middle" font-size="6.2" fill="#3c3c3c" stroke="#3c3c3c" stroke-width="0.24">200</text><text transform="translate(370.78 399.57) scale(1 1.07)" text-anchor="middle" font-size="6.2" fill="#3c3c3c" stroke="#3c3c3c" stroke-width="0.24">300</text><text transform="translate(392.54 399.57) scale(1 1.07)" text-anchor="middle" font-size="6.2" fill="#3c3c3c" stroke="#3c3c3c" stroke-width="0.24">400</text><text transform="translate(414.3 399.57) scale(1 1.07)" text-anchor="middle" font-size="6.2" fill="#3c3c3c" stroke="#3c3c3c" stroke-width="0.24">500</text><text transform="translate(303 322.87) scale(1 1.07)" text-anchor="end" font-size="6.2" fill="#3c3c3c" stroke="#3c3c3c" stroke-width="0.24">−10<tspan font-size="4.22" dy="-3.6">0</tspan></text><text transform="translate(303 393.97) scale(1 1.07)" text-anchor="end" font-size="6.2" fill="#3c3c3c" stroke="#3c3c3c" stroke-width="0.24">−10<tspan font-size="4.22" dy="-3.6">1</tspan></text><text transform="translate(391.3 296.73) scale(1 1.08)" font-size="5.9" fill="#262626" stroke="#262626" stroke-width="0.18">EROA</text><text transform="translate(391.3 304.15) scale(1 1.08)" font-size="5.9" fill="#262626" stroke="#262626" stroke-width="0.18">ROA</text><text transform="translate(391.3 311.57) scale(1 1.08)" font-size="5.9" fill="#262626" stroke="#262626" stroke-width="0.18">AO</text><text transform="translate(391.3 319) scale(1 1.08)" font-size="5.9" fill="#262626" stroke="#262626" stroke-width="0.18">AOA</text><text transform="translate(391.3 326.42) scale(1 1.08)" font-size="5.9" fill="#262626" stroke="#262626" stroke-width="0.18">HHO</text><text transform="translate(391.3 333.84) scale(1 1.08)" font-size="5.9" fill="#262626" stroke="#262626" stroke-width="0.18">WOA</text><text transform="translate(391.3 341.26) scale(1 1.08)" font-size="5.9" fill="#262626" stroke="#262626" stroke-width="0.18">SCA</text><text transform="translate(391.3 348.68) scale(1 1.08)" font-size="5.9" fill="#262626" stroke="#262626" stroke-width="0.18">STOA</text><text x="360.3" y="281.99" text-anchor="middle" font-size="7.5" font-weight="bold" letter-spacing="0.3" fill="#4a4a4a">F21</text><text x="361.5" y="408.5" text-anchor="middle" font-size="7.6" fill="#262626" stroke="#262626" stroke-width="0.18">Iteration</text><text transform="translate(285.2 337.25) rotate(-90)" text-anchor="middle" font-size="7.1" fill="#262626" stroke="#262626" stroke-width="0.18" y="2.54">Best Score</text><text transform="translate(29 536.27) scale(1 1.07)" text-anchor="middle" font-size="6.2" fill="#3c3c3c" stroke="#3c3c3c" stroke-width="0.24">0</text><text transform="translate(51.1 536.27) scale(1 1.07)" text-anchor="middle" font-size="6.2" fill="#3c3c3c" stroke="#3c3c3c" stroke-width="0.24">100</text><text transform="translate(73.2 536.27) scale(1 1.07)" text-anchor="middle" font-size="6.2" fill="#3c3c3c" stroke="#3c3c3c" stroke-width="0.24">200</text><text transform="translate(95.3 536.27) scale(1 1.07)" text-anchor="middle" font-size="6.2" fill="#3c3c3c" stroke="#3c3c3c" stroke-width="0.24">300</text><text transform="translate(117.4 536.27) scale(1 1.07)" text-anchor="middle" font-size="6.2" fill="#3c3c3c" stroke="#3c3c3c" stroke-width="0.24">400</text><text transform="translate(139.5 536.27) scale(1 1.07)" text-anchor="middle" font-size="6.2" fill="#3c3c3c" stroke="#3c3c3c" stroke-width="0.24">500</text><text transform="translate(26.5 445.97) scale(1 1.07)" text-anchor="end" font-size="6.2" fill="#3c3c3c" stroke="#3c3c3c" stroke-width="0.24">−10<tspan font-size="4.22" dy="-3.6">0</tspan></text><text transform="translate(26.5 529.57) scale(1 1.07)" text-anchor="end" font-size="6.2" fill="#3c3c3c" stroke="#3c3c3c" stroke-width="0.24">−10<tspan font-size="4.22" dy="-3.6">1</tspan></text><text transform="translate(116.3 432.23) scale(1 1.08)" font-size="5.9" fill="#262626" stroke="#262626" stroke-width="0.18">EROA</text><text transform="translate(116.3 439.72) scale(1 1.08)" font-size="5.9" fill="#262626" stroke="#262626" stroke-width="0.18">ROA</text><text transform="translate(116.3 447.22) scale(1 1.08)" font-size="5.9" fill="#262626" stroke="#262626" stroke-width="0.18">AO</text><text transform="translate(116.3 454.71) scale(1 1.08)" font-size="5.9" fill="#262626" stroke="#262626" stroke-width="0.18">AOA</text><text transform="translate(116.3 462.2) scale(1 1.08)" font-size="5.9" fill="#262626" stroke="#262626" stroke-width="0.18">HHO</text><text transform="translate(116.3 469.7) scale(1 1.08)" font-size="5.9" fill="#262626" stroke="#262626" stroke-width="0.18">WOA</text><text transform="translate(116.3 477.19) scale(1 1.08)" font-size="5.9" fill="#262626" stroke="#262626" stroke-width="0.18">SCA</text><text transform="translate(116.3 484.68) scale(1 1.08)" font-size="5.9" fill="#262626" stroke="#262626" stroke-width="0.18">STOA</text><text x="84.65" y="417.59" text-anchor="middle" font-size="7.5" font-weight="bold" letter-spacing="0.3" fill="#4a4a4a">F22</text><text x="85.85" y="545.2" text-anchor="middle" font-size="7.6" fill="#262626" stroke="#262626" stroke-width="0.18">Iteration</text><text transform="translate(8.6 473.4) rotate(-90)" text-anchor="middle" font-size="7.1" fill="#262626" stroke="#262626" stroke-width="0.18" y="2.54">Best Score</text><text transform="translate(168.4 536.27) scale(1 1.07)" text-anchor="middle" font-size="6.2" fill="#3c3c3c" stroke="#3c3c3c" stroke-width="0.24">0</text><text transform="translate(190.54 536.27) scale(1 1.07)" text-anchor="middle" font-size="6.2" fill="#3c3c3c" stroke="#3c3c3c" stroke-width="0.24">100</text><text transform="translate(212.68 536.27) scale(1 1.07)" text-anchor="middle" font-size="6.2" fill="#3c3c3c" stroke="#3c3c3c" stroke-width="0.24">200</text><text transform="translate(234.82 536.27) scale(1 1.07)" text-anchor="middle" font-size="6.2" fill="#3c3c3c" stroke="#3c3c3c" stroke-width="0.24">300</text><text transform="translate(256.96 536.27) scale(1 1.07)" text-anchor="middle" font-size="6.2" fill="#3c3c3c" stroke="#3c3c3c" stroke-width="0.24">400</text><text transform="translate(279.1 536.27) scale(1 1.07)" text-anchor="middle" font-size="6.2" fill="#3c3c3c" stroke="#3c3c3c" stroke-width="0.24">500</text><text transform="translate(165.9 444.07) scale(1 1.07)" text-anchor="end" font-size="6.2" fill="#3c3c3c" stroke="#3c3c3c" stroke-width="0.24">−10<tspan font-size="4.22" dy="-3.6">0</tspan></text><text transform="translate(165.9 528.57) scale(1 1.07)" text-anchor="end" font-size="6.2" fill="#3c3c3c" stroke="#3c3c3c" stroke-width="0.24">−10<tspan font-size="4.22" dy="-3.6">1</tspan></text><text transform="translate(255.2 432.13) scale(1 1.08)" font-size="5.9" fill="#262626" stroke="#262626" stroke-width="0.18">EROA</text><text transform="translate(255.2 439.51) scale(1 1.08)" font-size="5.9" fill="#262626" stroke="#262626" stroke-width="0.18">ROA</text><text transform="translate(255.2 446.89) scale(1 1.08)" font-size="5.9" fill="#262626" stroke="#262626" stroke-width="0.18">AO</text><text transform="translate(255.2 454.27) scale(1 1.08)" font-size="5.9" fill="#262626" stroke="#262626" stroke-width="0.18">AOA</text><text transform="translate(255.2 461.65) scale(1 1.08)" font-size="5.9" fill="#262626" stroke="#262626" stroke-width="0.18">HHO</text><text transform="translate(255.2 469.02) scale(1 1.08)" font-size="5.9" fill="#262626" stroke="#262626" stroke-width="0.18">WOA</text><text transform="translate(255.2 476.4) scale(1 1.08)" font-size="5.9" fill="#262626" stroke="#262626" stroke-width="0.18">SCA</text><text transform="translate(255.2 483.78) scale(1 1.08)" font-size="5.9" fill="#262626" stroke="#262626" stroke-width="0.18">STOA</text><text x="224.15" y="417.39" text-anchor="middle" font-size="7.5" font-weight="bold" letter-spacing="0.3" fill="#4a4a4a">F23</text><text x="225.35" y="545.2" text-anchor="middle" font-size="7.6" fill="#262626" stroke="#262626" stroke-width="0.18">Iteration</text><text transform="translate(148.2 473.3) rotate(-90)" text-anchor="middle" font-size="7.1" fill="#262626" stroke="#262626" stroke-width="0.18" y="2.54">Best Score</text></g>
</svg>
</body></html>
